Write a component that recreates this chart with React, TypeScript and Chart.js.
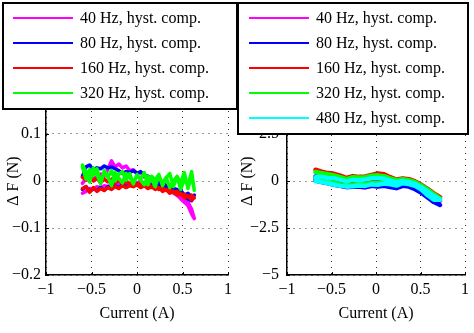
import React, { useEffect, useRef } from 'react';
import { Chart, registerables } from 'chart.js';

Chart.register(...registerables);

const FONT = '"Liberation Serif", "Times New Roman", serif';

// ---------- tick values / labels ----------
const xTicks = [-1, -0.5, 0, 0.5, 1];
const xTickLabels = ['\u22121', '\u22120.5', '0', '0.5', '1'];
const leftYTicks = [-0.2, -0.1, 0, 0.1, 0.2];
const leftYTickLabels = ['\u22120.2', '\u22120.1', '0', '0.1', '0.2'];
const rightYTicks = [-5, -2.5, 0, 2.5, 5];
const rightYTickLabels = ['\u22125', '\u22122.5', '0', '2.5', '5'];

// ---------- series names / colours ----------
const leftLabels = ['40 Hz, hyst. comp.', '80 Hz, hyst. comp.', '160 Hz, hyst. comp.', '320 Hz, hyst. comp.'];
const leftColors = ['#ff00ff', '#0000ff', '#ff0000', '#00ff00'];
const rightLabels = ['40 Hz, hyst. comp.', '80 Hz, hyst. comp.', '160 Hz, hyst. comp.', '320 Hz, hyst. comp.', '480 Hz, hyst. comp.'];
const rightColors = ['#ff00ff', '#0000ff', '#ff0000', '#00ff00', '#00ffff'];

// ---------- left panel: current (A) along the loop ----------
const leftLoopX = [
  -0.60, -0.56, -0.52, -0.48, -0.44, -0.40, -0.36, -0.32, -0.28, -0.24, -0.20, -0.16, -0.12, -0.08, -0.04, 0.00,
  0.04, 0.08, 0.12, 0.16, 0.20, 0.24, 0.28, 0.32, 0.36, 0.40, 0.44, 0.48, 0.52, 0.56, 0.60, 0.63,
  0.60, 0.56, 0.52, 0.48, 0.44, 0.40, 0.36, 0.32, 0.28, 0.24, 0.20, 0.16, 0.12, 0.08, 0.04, 0.00,
  -0.04, -0.08, -0.12, -0.16, -0.20, -0.24, -0.28, -0.32, -0.36, -0.40, -0.44, -0.48, -0.52, -0.56, -0.60,
];

// ΔF (N), left panel
const left40Hz = [
  -0.005, 0.005, 0.000, 0.010, 0.005, 0.015, 0.010, 0.025, 0.043, 0.030, 0.036, 0.028, 0.032, 0.022, 0.024, 0.016,
  0.018, 0.008, 0.010, 0.002, 0.004, -0.006, -0.004, -0.014, -0.016, -0.026, -0.030, -0.038, -0.045, -0.052, -0.070, -0.080,
  -0.060, -0.045, -0.035, -0.030, -0.022, -0.024, -0.016, -0.018, -0.010, -0.014, -0.008, -0.010, -0.004, -0.006, 0.000, -0.004,
  -0.002, -0.006, -0.004, -0.008, -0.006, -0.010, -0.008, -0.012, -0.010, -0.014, -0.012, -0.018, -0.016, -0.022, -0.026,
];
const left80Hz = [
  0.010, 0.030, 0.034, 0.024, 0.028, 0.026, 0.032, 0.028, 0.030, 0.026, 0.022, 0.016, 0.020, 0.018, 0.022, 0.016,
  0.020, 0.012, 0.010, 0.004, 0.002, -0.004, -0.002, -0.010, -0.008, -0.016, -0.018, -0.028, -0.032, -0.038, -0.042, -0.030,
  -0.034, -0.026, -0.030, -0.020, -0.024, -0.014, -0.018, -0.010, -0.014, -0.008, -0.012, -0.006, -0.010, -0.004, -0.008, -0.006,
  -0.010, -0.008, -0.012, -0.008, -0.014, -0.010, -0.016, -0.012, -0.020, -0.014, -0.020, -0.016, -0.022, -0.012, -0.018,
];
const left160Hz = [
  0.008, 0.002, 0.010, 0.000, 0.006, -0.004, 0.004, -0.002, 0.004, -0.004, 0.002, -0.006, 0.000, -0.006, -0.002, -0.008,
  -0.004, -0.010, -0.006, -0.014, -0.010, -0.018, -0.014, -0.020, -0.018, -0.024, -0.022, -0.030, -0.028, -0.034, -0.030, -0.036,
  -0.040, -0.032, -0.036, -0.026, -0.030, -0.022, -0.026, -0.018, -0.022, -0.014, -0.018, -0.012, -0.016, -0.010, -0.014, -0.008,
  -0.012, -0.010, -0.014, -0.010, -0.016, -0.012, -0.018, -0.014, -0.020, -0.016, -0.022, -0.014, -0.024, -0.012, -0.016,
];
const left320Hz = [
  0.030, 0.004, 0.024, 0.012, 0.026, -0.004, 0.018, 0.008, 0.022, 0.000, 0.014, 0.020, 0.002, 0.016, -0.006, 0.012,
  0.004, 0.018, -0.008, 0.010, 0.002, 0.014, -0.010, 0.006, 0.016, -0.012, 0.010, -0.004, 0.018, -0.016, 0.012, -0.020,
  0.020, -0.010, 0.004, -0.018, 0.010, 0.000, -0.014, 0.008, -0.006, 0.012, -0.012, 0.004, 0.010, -0.008, 0.002, 0.014,
  -0.006, 0.008, 0.016, -0.004, 0.006, 0.018, -0.010, 0.010, 0.022, -0.006, 0.014, 0.028, -0.002, 0.020, 0.034,
];

// ---------- right panel: current (A) along the loop ----------
const rightLoopX = [
  -0.68, -0.61, -0.54, -0.47, -0.40, -0.33, -0.26, -0.19, -0.12, -0.05, 0.02, 0.09, 0.16, 0.23, 0.30, 0.37, 0.44, 0.51, 0.58, 0.65, 0.72,
  0.65, 0.58, 0.51, 0.44, 0.37, 0.30, 0.23, 0.16, 0.09, 0.02, -0.05, -0.12, -0.19, -0.26, -0.33, -0.40, -0.47, -0.54, -0.61, -0.68,
];

// ΔF (N), right panel
const right40Hz = [
  0.18, 0.16, 0.12, 0.10, 0.02, -0.06, 0.02, 0.00, 0.04, 0.10, 0.12, 0.08, -0.02, -0.10, -0.04, -0.10, -0.20, -0.40, -0.62, -0.86, -1.06,
  -1.02, -0.80, -0.52, -0.32, -0.22, -0.18, -0.30, -0.26, -0.22, -0.26, -0.24, -0.34, -0.30, -0.30, -0.32, -0.26, -0.18, -0.10, -0.04, 0.02,
];
const right80Hz = [
  0.24, 0.18, 0.12, 0.10, 0.02, -0.08, 0.00, -0.02, 0.02, 0.06, 0.08, 0.04, -0.06, -0.14, -0.10, -0.16, -0.28, -0.48, -0.72, -0.98, -1.28,
  -1.12, -0.88, -0.62, -0.44, -0.30, -0.26, -0.38, -0.32, -0.26, -0.30, -0.26, -0.32, -0.30, -0.30, -0.32, -0.26, -0.20, -0.12, -0.06, 0.02,
];
const right160Hz = [
  0.60, 0.50, 0.42, 0.38, 0.28, 0.16, 0.26, 0.22, 0.24, 0.32, 0.40, 0.36, 0.20, 0.08, 0.14, 0.10, -0.02, -0.20, -0.42, -0.66, -0.86,
  -0.90, -0.66, -0.36, -0.14, -0.06, -0.02, -0.14, -0.08, -0.04, -0.10, -0.08, -0.16, -0.14, -0.18, -0.22, -0.18, -0.12, -0.04, 0.04, 0.10,
];
const right320Hz = [
  0.48, 0.42, 0.36, 0.30, 0.20, 0.10, 0.20, 0.18, 0.20, 0.28, 0.30, 0.26, 0.14, 0.04, 0.10, 0.04, -0.06, -0.24, -0.46, -0.70, -0.92,
  -0.92, -0.68, -0.38, -0.16, -0.08, -0.04, -0.16, -0.10, -0.06, -0.12, -0.10, -0.18, -0.16, -0.20, -0.22, -0.18, -0.10, -0.02, 0.06, 0.14,
];
const right480Hz = [
  0.20, 0.22, 0.16, 0.14, 0.06, -0.02, 0.06, 0.04, 0.08, 0.14, 0.16, 0.12, 0.02, -0.06, 0.00, -0.06, -0.16, -0.34, -0.56, -0.80, -1.00,
  -1.00, -0.76, -0.46, -0.26, -0.16, -0.12, -0.24, -0.18, -0.14, -0.20, -0.18, -0.26, -0.24, -0.28, -0.30, -0.26, -0.20, -0.12, -0.06, 0.00,
];

const leftSeries = [left40Hz, left80Hz, left160Hz, left320Hz];
const rightSeries = [right40Hz, right80Hz, right160Hz, right320Hz, right480Hz];

// ---------- plugins ----------
const inwardTicks = {
  id: 'inwardTicks',
  beforeDatasetsDraw(chart: any) {
    const { ctx, chartArea, scales } = chart;
    ctx.save();
    ctx.strokeStyle = '#000';
    ctx.lineWidth = 1;
    const len = 3;
    scales.x.ticks.forEach((t: any) => {
      const px = Math.round(scales.x.getPixelForValue(t.value)) + 0.5;
      ctx.beginPath();
      ctx.moveTo(px, chartArea.bottom);
      ctx.lineTo(px, chartArea.bottom - len);
      ctx.stroke();
    });
    scales.y.ticks.forEach((t: any) => {
      const py = Math.round(scales.y.getPixelForValue(t.value)) + 0.5;
      ctx.beginPath();
      ctx.moveTo(chartArea.left, py);
      ctx.lineTo(chartArea.left + len, py);
      ctx.stroke();
    });
    ctx.restore();
  },
};

const boxLegend = {
  id: 'boxLegend',
  afterDraw(chart: any, _args: any, opts: any) {
    const ctx = chart.ctx;
    ctx.save();
    ctx.fillStyle = '#fff';
    ctx.fillRect(opts.x, opts.y, opts.w, opts.h);
    ctx.lineWidth = 2;
    ctx.strokeStyle = '#000';
    ctx.strokeRect(opts.x, opts.y, opts.w, opts.h);
    ctx.font = `16px ${FONT}`;
    ctx.textBaseline = 'middle';
    ctx.textAlign = 'left';
    chart.data.datasets.forEach((ds: any, i: number) => {
      const y = opts.rowY + i * opts.rowGap;
      ctx.strokeStyle = ds.borderColor;
      ctx.lineWidth = 2;
      ctx.beginPath();
      ctx.moveTo(opts.lineX1, y);
      ctx.lineTo(opts.lineX2, y);
      ctx.stroke();
      ctx.fillStyle = '#000';
      ctx.fillText(ds.label, opts.textX, y + 1);
    });
    ctx.restore();
  },
};

// ---------- config builder ----------
function buildConfig(p: {
  loopX: number[];
  series: number[][];
  labels: string[];
  colors: string[];
  lineWidth: number;
  yTicks: number[];
  yTickLabels: string[];
  yAxisWidth: number;
  yTickPad: number;
  yTitlePad: number;
  padRight: number;
  legend: any;
}) {
  const font = { family: FONT, size: 16 };
  const n = p.series.length;
  const datasets = p.series.map((ys, i) => ({
    label: p.labels[i],
    data: p.loopX.map((x, k) => ({ x, y: ys[k] })),
    borderColor: p.colors[i],
    backgroundColor: p.colors[i],
    borderWidth: p.lineWidth,
    showLine: true,
    pointRadius: 0,
    pointHoverRadius: 0,
    tension: 0,
    borderJoinStyle: 'round',
    borderCapStyle: 'round',
    order: n - i,
  }));
  const grid = { color: '#333', lineWidth: 1, drawTicks: false };
  const border = { display: true, color: '#000', width: 1.5, dash: [1, 5] };
  return {
    type: 'scatter',
    data: { datasets },
    options: {
      responsive: false,
      animation: false,
      events: [],
      layout: { padding: { left: 0, top: 87, right: p.padRight, bottom: 0 } },
      plugins: {
        legend: { display: false },
        tooltip: { enabled: false },
        boxLegend: p.legend,
      },
      scales: {
        x: {
          type: 'linear',
          min: -1,
          max: 1,
          afterBuildTicks: (s: any) => {
            s.ticks = xTicks.map((v) => ({ value: v }));
          },
          afterFit: (s: any) => {
            s.height = 58;
          },
          ticks: {
            callback: (_v: any, i: number) => xTickLabels[i],
            font,
            color: '#000',
            padding: 5,
            autoSkip: false,
            maxRotation: 0,
          },
          grid,
          border,
          title: {
            display: true,
            text: 'Current (A)',
            font,
            color: '#000',
            padding: { top: 0, bottom: 10 },
          },
        },
        y: {
          type: 'linear',
          min: p.yTicks[0],
          max: p.yTicks[p.yTicks.length - 1],
          afterBuildTicks: (s: any) => {
            s.ticks = p.yTicks.map((v) => ({ value: v }));
          },
          afterFit: (s: any) => {
            s.width = p.yAxisWidth;
          },
          ticks: {
            callback: (_v: any, i: number) => p.yTickLabels[i],
            font,
            color: '#000',
            padding: p.yTickPad,
            autoSkip: false,
          },
          grid,
          border,
          title: {
            display: true,
            text: '\u0394 F (N)',
            font,
            color: '#000',
            padding: { top: p.yTitlePad, bottom: 0 },
          },
        },
      },
    },
    plugins: [inwardTicks, boxLegend],
  } as any;
}

function ChartPanel({ config, left }: { config: () => any; left: number }) {
  const ref = useRef<HTMLCanvasElement | null>(null);
  useEffect(() => {
    if (!ref.current) return;
    const chart = new Chart(ref.current, config());
    return () => chart.destroy();
  }, []);
  return (
    <canvas
      ref={ref}
      width={237}
      height={333}
      style={{ position: 'absolute', left, top: 0, width: 237, height: 333, display: 'block' }}
    />
  );
}

export default function App() {
  const leftConfig = () =>
    buildConfig({
      loopX: leftLoopX,
      series: leftSeries,
      labels: leftLabels,
      colors: leftColors,
      lineWidth: 3.5,
      yTicks: leftYTicks,
      yTickLabels: leftYTickLabels,
      yAxisWidth: 46,
      yTickPad: 5,
      yTitlePad: 4,
      padRight: 8,
      legend: { x: 3, y: 3, w: 234, h: 106, rowY: 18, rowGap: 25, lineX1: 13, lineX2: 73, textX: 80 },
    });
  const rightConfig = () =>
    buildConfig({
      loopX: rightLoopX,
      series: rightSeries,
      labels: rightLabels,
      colors: rightColors,
      lineWidth: 4.5,
      yTicks: rightYTicks,
      yTickLabels: rightYTickLabels,
      yAxisWidth: 50,
      yTickPad: 8,
      yTitlePad: 1.5,
      padRight: 5,
      legend: { x: 1, y: 3, w: 230, h: 131, rowY: 18, rowGap: 25, lineX1: 12, lineX2: 72, textX: 79 },
    });
  return (
    <div style={{ position: 'absolute', left: 0, top: 0, width: 474, height: 333, background: '#fff' }}>
      <ChartPanel config={leftConfig} left={0} />
      <ChartPanel config={rightConfig} left={237} />
    </div>
  );
}
